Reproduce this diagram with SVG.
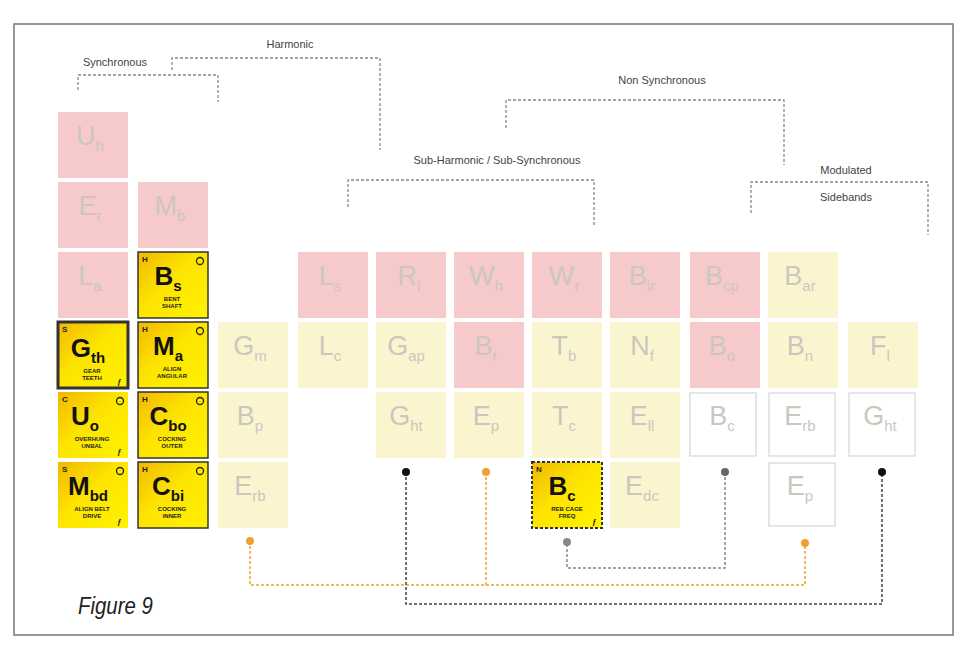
<svg xmlns="http://www.w3.org/2000/svg" width="980" height="662" viewBox="0 0 980 662">
<defs>
<linearGradient id="gy" x1="0" y1="0" x2="1" y2="1"><stop offset="0" stop-color="#f2b800"/><stop offset="0.45" stop-color="#fde400"/><stop offset="1" stop-color="#fff200"/></linearGradient>
</defs>
<style>
.pk{fill:#f6c9cb}.fy{fill:#fbf5cf}.wt{fill:#fff;stroke:#dedede;stroke-width:1.5}.by{fill:url(#gy);stroke:#333;stroke-width:1.5}.nb{stroke:none}.tk{stroke-width:3}.dsh{stroke-dasharray:3,2;stroke-width:2}
text{font-family:"Liberation Sans",Arial,sans-serif}
.fs{font-size:27px;fill:#cbc6c0;text-anchor:middle}.bs{font-size:26px;font-weight:bold;fill:#111;text-anchor:middle}
.sb{font-size:15px}.tiny{font-size:6px;font-weight:bold;fill:#222;text-anchor:middle}.cn{font-size:8px;font-weight:bold;fill:#222}
.lb{font-size:11px;fill:#444}.br{fill:none;stroke:#888;stroke-width:1.3;stroke-dasharray:3,2}
</style>
<rect x="14" y="24" width="939" height="611" fill="#fff" stroke="#777" stroke-width="1.5"/>
<g id="brackets">
<path class="br" d="M78,90V75H218V102"/><path class="br" d="M172,70V58H380V150"/>
<path class="br" d="M506,128V100H784V165"/>
<path class="br" d="M348,207V180H594V225"/>
<path class="br" d="M751,213V182H928V235"/>
<text class="lb" x="115" y="66" text-anchor="middle">Synchronous</text>
<text class="lb" x="290" y="48" text-anchor="middle">Harmonic</text>
<text class="lb" x="662" y="84" text-anchor="middle">Non Synchronous</text>
<text class="lb" x="497" y="164" text-anchor="middle">Sub-Harmonic / Sub-Synchronous</text>
<text class="lb" x="846" y="174" text-anchor="middle">Modulated</text>
<text class="lb" x="846" y="201" text-anchor="middle">Sidebands</text>
</g>
<g id="connectors" fill="none" stroke-width="1.5" stroke-dasharray="3,2">
<path d="M250,541V585H805V543M486,472V585" stroke="#f0a030"/>
<path d="M406,472V604H882V472" stroke="#444"/>
<path d="M725,472V568H567V542" stroke="#888"/>
<g stroke="none" stroke-dasharray="none"><circle cx="250" cy="541" r="4" fill="#f0a030"/><circle cx="486" cy="472" r="4" fill="#f0a030"/><circle cx="805" cy="543" r="4" fill="#f0a030"/><circle cx="406" cy="472" r="4" fill="#111"/><circle cx="882" cy="472" r="4" fill="#111"/><circle cx="725" cy="472" r="4" fill="#666"/><circle cx="567" cy="542" r="4" fill="#888"/></g>
</g>
<g id="n-Uh"><rect class="pk" x="58" y="112" width="70" height="66"/><text class="fs" x="90" y="145">U<tspan class="sb" dy="6">h</tspan></text></g>
<g id="n-Er"><rect class="pk" x="58" y="182" width="70" height="66"/><text class="fs" x="90" y="215">E<tspan class="sb" dy="6">r</tspan></text></g>
<g id="n-L"><rect class="pk" x="58" y="252" width="70" height="66"/><text class="fs" x="90" y="285">L<tspan class="sb" dy="6">a</tspan></text></g>
<g id="n-M"><rect class="pk" x="138" y="182" width="70" height="66"/><text class="fs" x="170" y="215">M<tspan class="sb" dy="6">b</tspan></text></g>
<g id="n-Gth"><rect class="by tk" x="58" y="322" width="70" height="66"/><text class="cn" x="62" y="332">S</text><text class="bs" x="88" y="357">G<tspan class="sb" dy="6">th</tspan></text><text class="tiny" x="92" y="373">GEAR</text><text class="tiny" x="92" y="380">TEETH</text><text class="cn" x="117" y="384">ƒ</text></g>
<g id="n-Uo"><rect class="by nb" x="58" y="392" width="70" height="66"/><text class="cn" x="62" y="402">C</text><circle cx="120" cy="401" r="3.5" fill="none" stroke="#222" stroke-width="1.3"/><text class="bs" x="85" y="425">U<tspan class="sb" dy="6">o</tspan></text><text class="tiny" x="92" y="441">OVERHUNG</text><text class="tiny" x="92" y="448">UNBAL</text><text class="cn" x="117" y="454">ƒ</text></g>
<g id="n-Mbd"><rect class="by nb" x="58" y="462" width="70" height="66"/><text class="cn" x="62" y="472">S</text><circle cx="120" cy="471" r="3.5" fill="none" stroke="#222" stroke-width="1.3"/><text class="bs" x="88" y="495">M<tspan class="sb" dy="6">bd</tspan></text><text class="tiny" x="92" y="511">ALIGN BELT</text><text class="tiny" x="92" y="518">DRIVE</text><text class="cn" x="117" y="524">ƒ</text></g>
<g id="n-Bs"><rect class="by" x="138" y="252" width="70" height="66"/><text class="cn" x="142" y="262">H</text><circle cx="200" cy="261" r="3.5" fill="none" stroke="#222" stroke-width="1.3"/><text class="bs" x="168" y="285">B<tspan class="sb" dy="6">s</tspan></text><text class="tiny" x="172" y="301">BENT</text><text class="tiny" x="172" y="308">SHAFT</text></g>
<g id="n-Ma"><rect class="by" x="138" y="322" width="70" height="66"/><text class="cn" x="142" y="332">H</text><circle cx="200" cy="331" r="3.5" fill="none" stroke="#222" stroke-width="1.3"/><text class="bs" x="168" y="355">M<tspan class="sb" dy="6">a</tspan></text><text class="tiny" x="172" y="371">ALIGN</text><text class="tiny" x="172" y="378">ANGULAR</text></g>
<g id="n-Cbo"><rect class="by" x="138" y="392" width="70" height="66"/><text class="cn" x="142" y="402">H</text><circle cx="200" cy="401" r="3.5" fill="none" stroke="#222" stroke-width="1.3"/><text class="bs" x="168" y="425">C<tspan class="sb" dy="6">bo</tspan></text><text class="tiny" x="172" y="441">COCKING</text><text class="tiny" x="172" y="448">OUTER</text></g>
<g id="n-Cbi"><rect class="by" x="138" y="462" width="70" height="66"/><text class="cn" x="142" y="472">H</text><circle cx="200" cy="471" r="3.5" fill="none" stroke="#222" stroke-width="1.3"/><text class="bs" x="168" y="495">C<tspan class="sb" dy="6">bi</tspan></text><text class="tiny" x="172" y="511">COCKING</text><text class="tiny" x="172" y="518">INNER</text></g>
<g id="n-Gm"><rect class="fy" x="218" y="322" width="70" height="66"/><text class="fs" x="250" y="355">G<tspan class="sb" dy="6">m</tspan></text></g>
<g id="n-Bp"><rect class="fy" x="218" y="392" width="70" height="66"/><text class="fs" x="250" y="425">B<tspan class="sb" dy="6">p</tspan></text></g>
<g id="n-Erb"><rect class="fy" x="218" y="462" width="70" height="66"/><text class="fs" x="250" y="495">E<tspan class="sb" dy="6">rb</tspan></text></g>
<g id="n-Ls"><rect class="pk" x="298" y="252" width="70" height="66"/><text class="fs" x="330" y="285">L<tspan class="sb" dy="6">s</tspan></text></g>
<g id="n-Lc"><rect class="fy" x="298" y="322" width="70" height="66"/><text class="fs" x="330" y="355">L<tspan class="sb" dy="6">c</tspan></text></g>
<g id="n-R"><rect class="pk" x="376" y="252" width="70" height="66"/><text class="fs" x="409" y="285">R<tspan class="sb" dy="6">i</tspan></text></g>
<g id="n-Gap"><rect class="fy" x="376" y="322" width="70" height="66"/><text class="fs" x="406" y="355">G<tspan class="sb" dy="6">ap</tspan></text></g>
<g id="n-Ght"><rect class="fy" x="376" y="392" width="70" height="66"/><text class="fs" x="406" y="425">G<tspan class="sb" dy="6">ht</tspan></text></g>
<g id="n-Wh"><rect class="pk" x="454" y="252" width="70" height="66"/><text class="fs" x="486" y="285">W<tspan class="sb" dy="6">h</tspan></text></g>
<g id="n-Br"><rect class="pk" x="454" y="322" width="70" height="66"/><text class="fs" x="486" y="355">B<tspan class="sb" dy="6">r</tspan></text></g>
<g id="n-Ep"><rect class="fy" x="454" y="392" width="70" height="66"/><text class="fs" x="486" y="425">E<tspan class="sb" dy="6">p</tspan></text></g>
<g id="n-Wr"><rect class="pk" x="532" y="252" width="70" height="66"/><text class="fs" x="564" y="285">W<tspan class="sb" dy="6">r</tspan></text></g>
<g id="n-Tb"><rect class="fy" x="532" y="322" width="70" height="66"/><text class="fs" x="564" y="355">T<tspan class="sb" dy="6">b</tspan></text></g>
<g id="n-Tc"><rect class="fy" x="532" y="392" width="70" height="66"/><text class="fs" x="564" y="425">T<tspan class="sb" dy="6">c</tspan></text></g>
<g id="n-Bc"><rect class="by dsh" x="532" y="462" width="70" height="66"/><text class="cn" x="536" y="472">N</text><text class="bs" x="562" y="495">B<tspan class="sb" dy="6">c</tspan></text><text class="tiny" x="567" y="511">REB CAGE</text><text class="tiny" x="567" y="518">FREQ</text><text class="cn" x="592" y="524">ƒ</text></g>
<g id="n-Bi"><rect class="pk" x="610" y="252" width="70" height="66"/><text class="fs" x="642" y="285">B<tspan class="sb" dy="6">ir</tspan></text></g>
<g id="n-Nf"><rect class="fy" x="610" y="322" width="70" height="66"/><text class="fs" x="642" y="355">N<tspan class="sb" dy="6">f</tspan></text></g>
<g id="n-Ell"><rect class="fy" x="610" y="392" width="70" height="66"/><text class="fs" x="642" y="425">E<tspan class="sb" dy="6">ll</tspan></text></g>
<g id="n-Edc"><rect class="fy" x="610" y="462" width="70" height="66"/><text class="fs" x="642" y="495">E<tspan class="sb" dy="6">dc</tspan></text></g>
<g id="n-Bcp"><rect class="pk" x="690" y="252" width="70" height="66"/><text class="fs" x="722" y="285">B<tspan class="sb" dy="6">cp</tspan></text></g>
<g id="n-Bo"><rect class="pk" x="690" y="322" width="70" height="66"/><text class="fs" x="722" y="355">B<tspan class="sb" dy="6">o</tspan></text></g>
<g id="n-Bc2"><rect class="wt" x="690" y="393" width="66" height="63"/><text class="fs" x="722" y="425">B<tspan class="sb" dy="6">c</tspan></text></g>
<g id="n-Bar"><rect class="fy" x="768" y="252" width="70" height="66"/><text class="fs" x="800" y="285">B<tspan class="sb" dy="6">ar</tspan></text></g>
<g id="n-Bn"><rect class="fy" x="768" y="322" width="70" height="66"/><text class="fs" x="800" y="355">B<tspan class="sb" dy="6">n</tspan></text></g>
<g id="n-Erb2"><rect class="wt" x="769" y="393" width="66" height="63"/><text class="fs" x="800" y="425">E<tspan class="sb" dy="6">rb</tspan></text></g>
<g id="n-Ep2"><rect class="wt" x="769" y="463" width="66" height="63"/><text class="fs" x="800" y="495">E<tspan class="sb" dy="6">p</tspan></text></g>
<g id="n-Fl"><rect class="fy" x="848" y="322" width="70" height="66"/><text class="fs" x="880" y="355">F<tspan class="sb" dy="6">l</tspan></text></g>
<g id="n-Ght2"><rect class="wt" x="849" y="393" width="66" height="63"/><text class="fs" x="880" y="425">G<tspan class="sb" dy="6">ht</tspan></text></g>
<text x="78" y="614" font-size="24" font-style="italic" fill="#222" transform="translate(78,0) scale(0.85,1) translate(-78,0)" style="font-family:'Liberation Sans',Arial,sans-serif">Figure 9</text>
</svg>
